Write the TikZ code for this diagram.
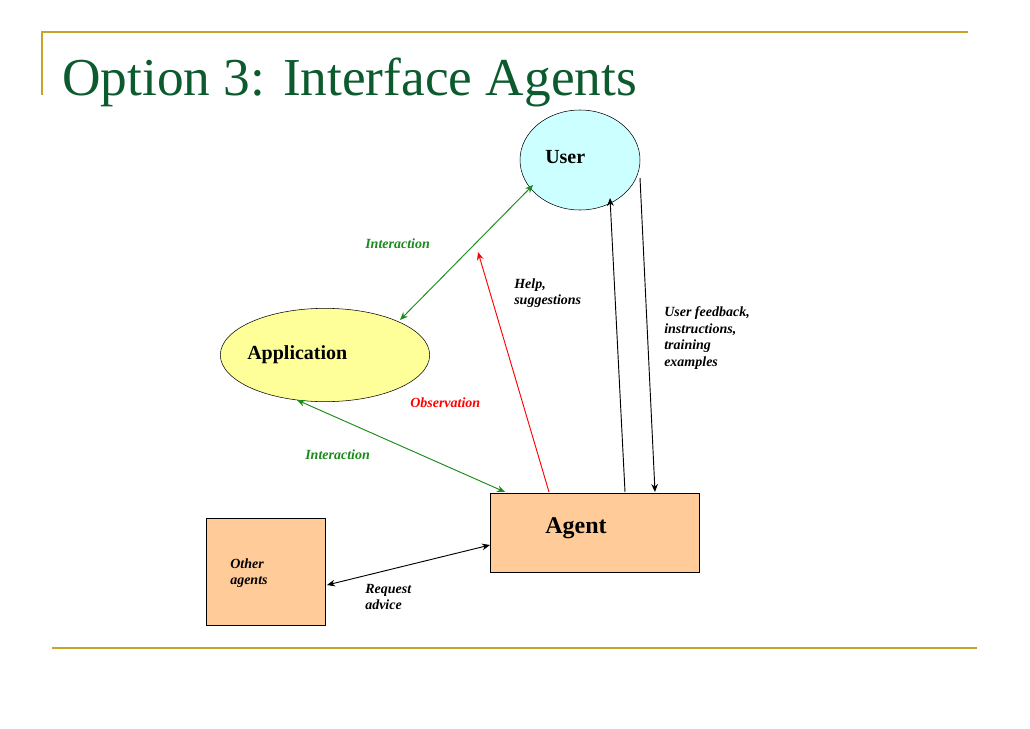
\documentclass[tikz,border=0pt]{standalone}
\usepackage{fontspec}
\setmainfont{Liberation Serif}
\usetikzlibrary{shapes.geometric,arrows.meta}
\definecolor{gold}{HTML}{C8A22A}
\definecolor{tgreen}{HTML}{0B5B2E}
\definecolor{agreen}{HTML}{1A8A1A}
\definecolor{peach}{HTML}{FFCC99}
\definecolor{cyanl}{HTML}{CCFFFF}
\definecolor{yell}{HTML}{FFFF99}
\begin{document}
\begin{tikzpicture}[x=0.75pt,y=-0.75pt,
  lab/.style={font=\fontsize{10.5}{12.5}\selectfont\bfseries\itshape,align=left,anchor=west,inner sep=0},
  big/.style={font=\fontsize{15}{18}\selectfont\bfseries,anchor=west,inner sep=0},
  arr/.style={-{Stealth[length=6pt,width=5pt]},line width=0.7pt},
  darr/.style={{Stealth[length=6pt,width=5pt]}-{Stealth[length=6pt,width=5pt]},line width=0.7pt}]
\useasboundingbox (0,0) rectangle (1030,728);
\draw[gold,line width=1pt] (42,95) -- (42,32) -- (968,32);
\draw[gold,line width=1pt] (52,648) -- (977,648);
\node[anchor=base west,text=tgreen,font=\fontsize{40}{44}\selectfont,inner sep=0] (title) at (62,95) {Option 3: Interface Agents};
\node[ellipse,draw,fill=cyanl,minimum width=90pt,minimum height=75pt,inner sep=0] (user) at (580,160) {};
\node[big] (usert) at (545,157) {User};
\node[ellipse,draw,fill=yell,minimum width=157pt,minimum height=70pt,inner sep=0] (app) at (325,355) {};
\node[big] (appt) at (247,355) {Application};
\node[draw,fill=peach,minimum width=157pt,minimum height=59pt,inner sep=0] (agent) at (594.5,532.5) {};
\node[font=\fontsize{18}{20}\selectfont\bfseries,anchor=west,inner sep=0] (agentt) at (545,528) {Agent};
\node[draw,fill=peach,minimum width=89pt,minimum height=80pt,inner sep=0] (other) at (265.5,572) {};
\node[lab] (othert) at (230,573) {Other\\agents};
\coordinate (a1) at (400,320); \coordinate (a2) at (533,185);
\draw[darr,agreen] (a1) -- (a2);
\node[lab,text=agreen] (l1) at (365,244) {Interaction};
\coordinate (b1) at (297,400); \coordinate (b2) at (505,492);
\draw[darr,agreen] (b1) -- (b2);
\node[lab,text=agreen] (l2) at (305,455) {Interaction};
\coordinate (c1) at (549,492); \coordinate (c2) at (478,252);
\draw[arr,red] (c1) -- (c2);
\node[lab,text=red] (l3) at (410,403) {Observation};
\node[lab] (l4) at (514,293) {Help,\\suggestions};
\coordinate (d1) at (625,492); \coordinate (d2) at (610,198);
\draw[arr] (d1) -- (d2);
\coordinate (e1) at (640,178); \coordinate (e2) at (655,492);
\draw[arr] (e1) -- (e2);
\node[lab] (l5) at (664,338) {User feedback,\\instructions,\\training\\examples};
\coordinate (f1) at (327,585); \coordinate (f2) at (490,545);
\draw[darr] (f1) -- (f2);
\node[lab] (l6) at (365,597) {Request\\advice};
\end{tikzpicture}
\end{document}
